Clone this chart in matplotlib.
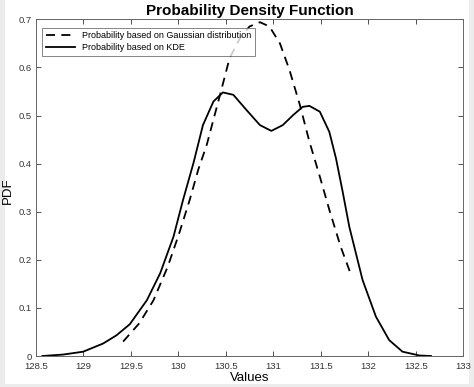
import matplotlib.pyplot as plt
from matplotlib.patches import Rectangle

plt.rcParams['font.family'] = ['Liberation Sans', 'DejaVu Sans']

# values
gauss_x = [129.42, 129.59, 129.74, 129.89, 130.01, 130.12, 130.21, 130.30, 130.44, 130.54,
           130.65, 130.75, 130.86, 130.96, 131.07, 131.17, 131.28, 131.38, 131.49, 131.59,
           131.71, 131.82]
gauss_y = [0.030, 0.068, 0.116, 0.186, 0.255, 0.324, 0.387, 0.439, 0.543, 0.619,
           0.661, 0.685, 0.694, 0.685, 0.650, 0.595, 0.522, 0.446, 0.373, 0.304,
           0.227, 0.168]

kde_x = [128.57, 128.79, 129.00, 129.21, 129.35, 129.49, 129.67, 129.81, 129.95, 130.05,
         130.16, 130.26, 130.37, 130.47, 130.58, 130.72, 130.86, 130.98, 131.10, 131.21,
         131.31, 131.38, 131.49, 131.59, 131.66, 131.73, 131.80, 131.94, 132.08, 132.22,
         132.36, 132.54, 132.66]
kde_y = [0.000, 0.003, 0.009, 0.026, 0.043, 0.066, 0.116, 0.172, 0.248, 0.324,
         0.401, 0.480, 0.529, 0.548, 0.543, 0.511, 0.480, 0.468, 0.480, 0.501,
         0.518, 0.520, 0.508, 0.466, 0.411, 0.342, 0.269, 0.158, 0.082, 0.033,
         0.009, 0.001, 0.000]

x_ticks = [128.5, 129, 129.5, 130, 130.5, 131, 131.5, 132, 132.5, 133]
y_ticks = [0, 0.1, 0.2, 0.3, 0.4, 0.5, 0.6, 0.7]

fig = plt.figure(figsize=(4.74, 3.87), dpi=100, facecolor='#ececec')
fig.patches.append(Rectangle((5 / 474, 3 / 387), 464 / 474, 384 / 387,
                             transform=fig.transFigure, facecolor='white',
                             edgecolor='none', zorder=-10))
ax = fig.add_axes([35.7 / 474, 31 / 387, 427.6 / 474, 336.7 / 387])

ax.plot(gauss_x, gauss_y, color='black', lw=1.3, dashes=(5, 3.5),
        label='Probability based on Gaussian distribution')
ax.plot(kde_x, kde_y, color='black', lw=1.3, label='Probability based on KDE')

ax.set_xlim(128.5, 133)
ax.set_ylim(0, 0.7)
ax.set_xticks(x_ticks)
ax.set_xticklabels([f'{v:g}' for v in x_ticks])
ax.set_yticks(y_ticks)
ax.set_yticklabels([f'{v:g}' for v in y_ticks])
ax.tick_params(direction='in', length=3.5, width=0.6, colors='#333333',
               labelsize=6.8, top=True, right=True)
ax.tick_params(axis='x', pad=4)
ax.tick_params(axis='y', pad=3)
for sp in ax.spines.values():
    sp.set_color('#666666')
    sp.set_linewidth(0.7)

ax.set_title('Probability Density Function', fontsize=11, fontweight='bold', pad=3)
ax.set_xlabel('Values', fontsize=9.5, labelpad=1)
ax.set_ylabel('PDF', fontsize=9.5)
ax.yaxis.set_label_coords(-0.052, 0.49)

leg = ax.legend(loc='upper left', fontsize=6.5, fancybox=False, handlelength=3.2,
                borderpad=0.4, labelspacing=0.35, handletextpad=0.8,
                bbox_to_anchor=(0.015, 0.975), borderaxespad=0)
leg.get_frame().set_edgecolor('#666666')
leg.get_frame().set_linewidth(0.7)

fig.savefig('out.png', dpi=100, facecolor=fig.get_facecolor())
